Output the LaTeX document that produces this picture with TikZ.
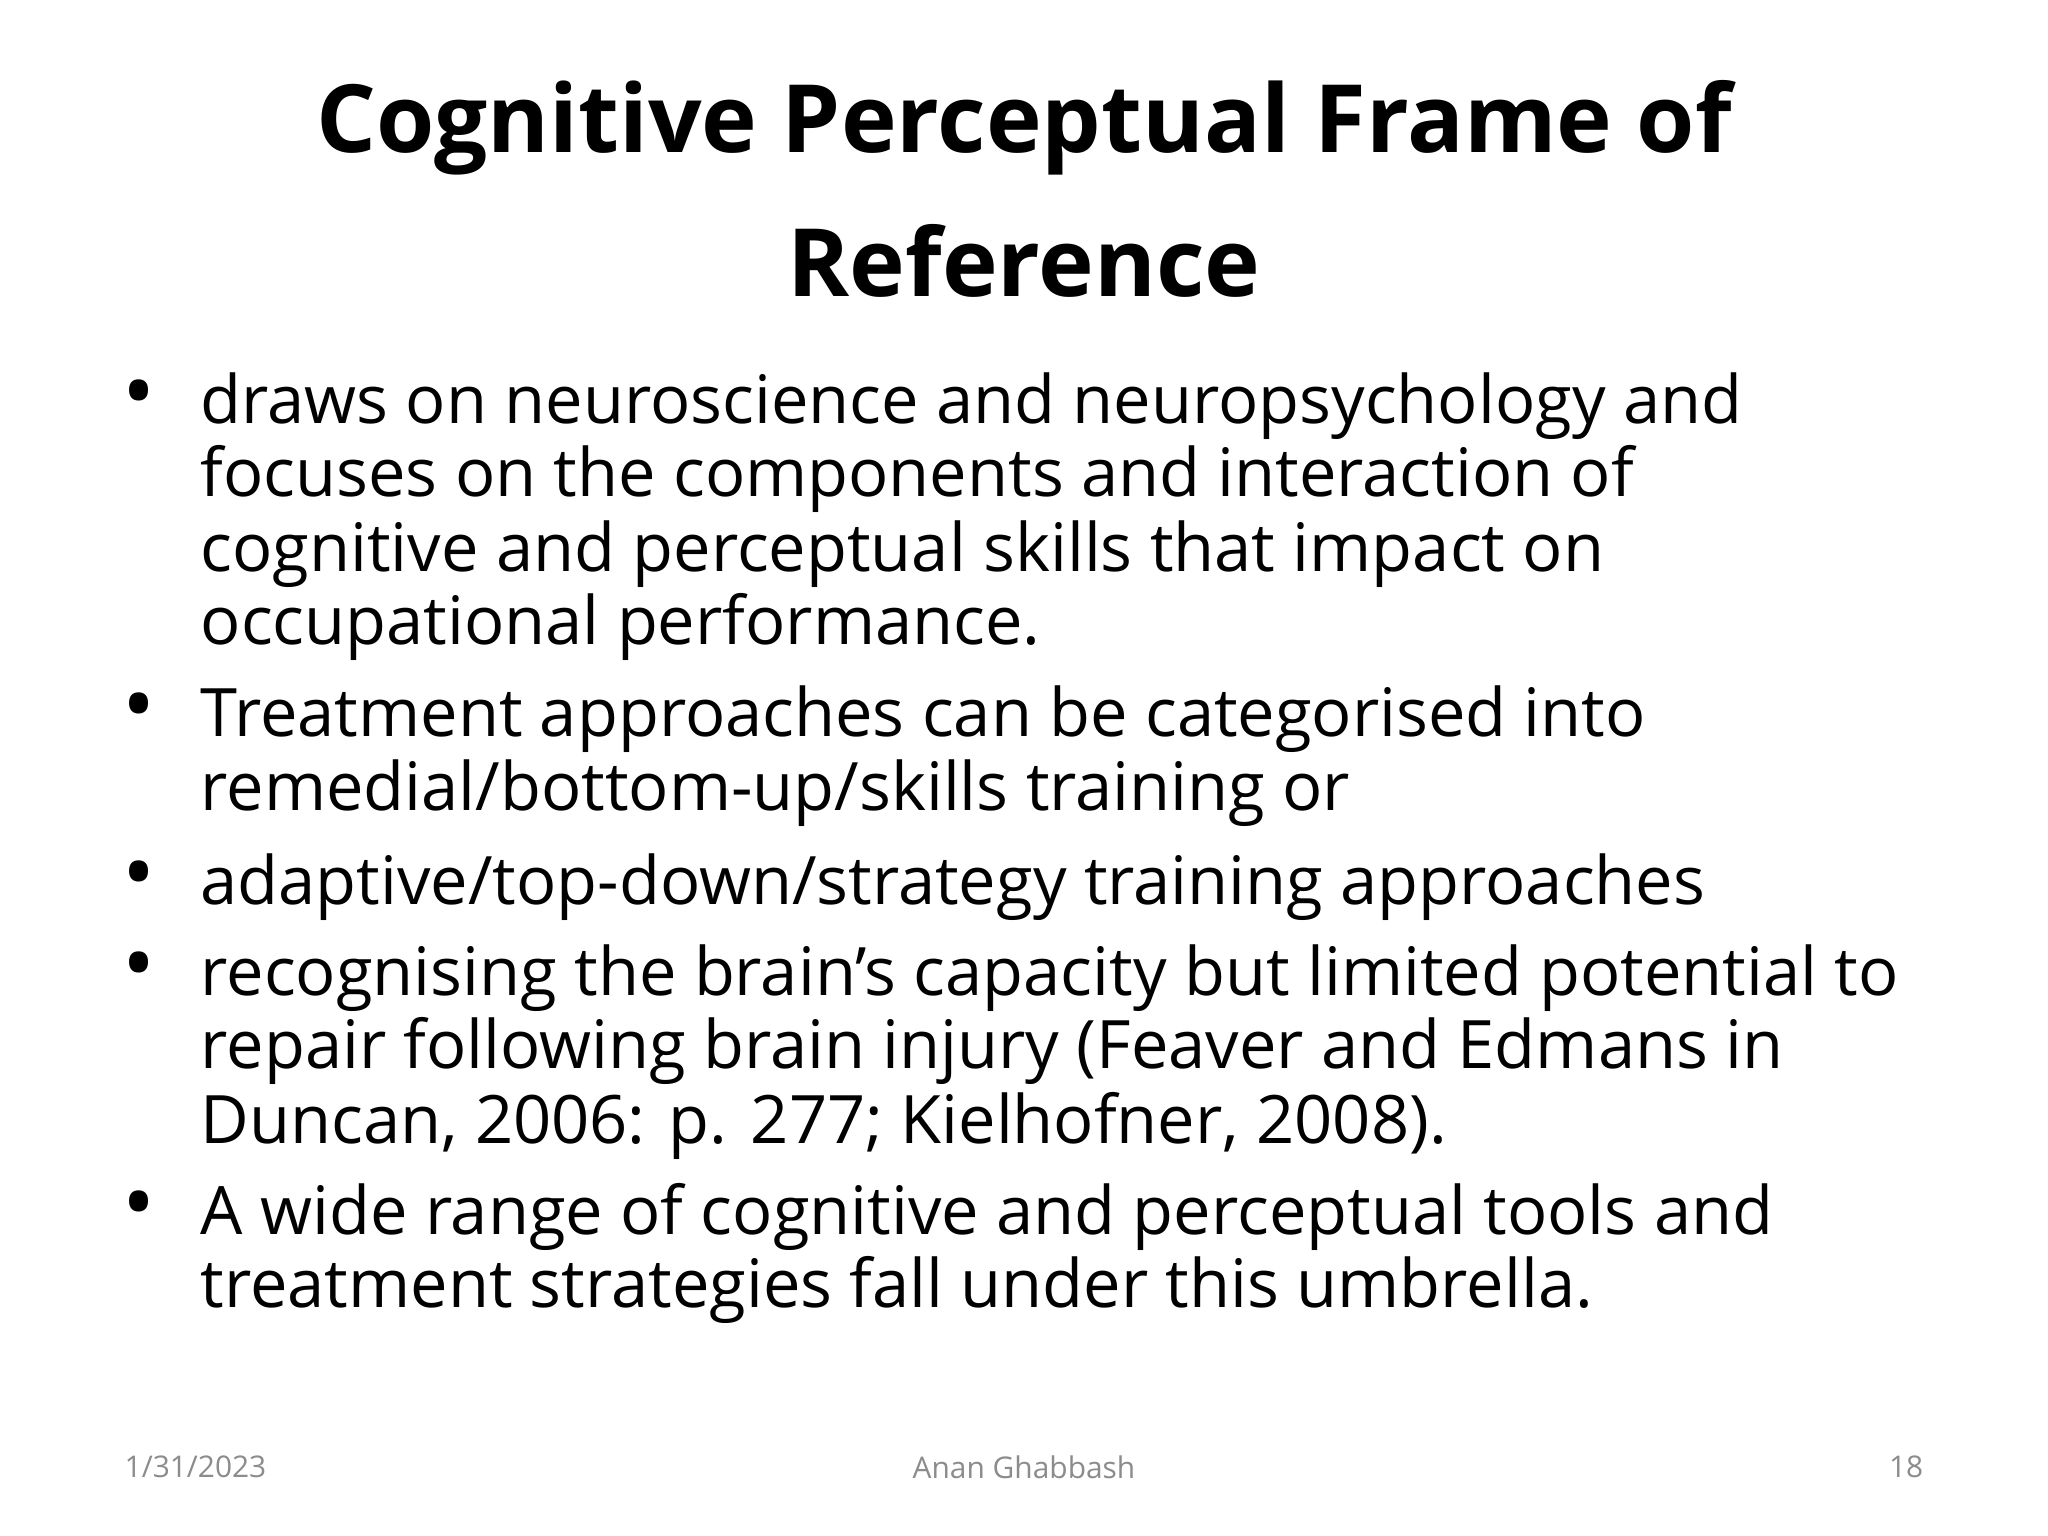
\documentclass[tikz,border=0pt]{standalone}
\usepackage{fontspec}
\setmainfont{Open Sans}
\begin{document}
\begin{tikzpicture}[x=0.01cm,y=-0.01cm,
  body/.style={anchor=mid west,inner sep=0pt,font=\fontsize{19}{22}\selectfont},
  bul/.style={anchor=mid west,inner sep=0pt,font=\fontsize{25}{28}\selectfont},
  foot/.style={inner sep=0pt,text=black!45,font=\fontsize{8.5}{10}\selectfont},
  ttl/.style={inner sep=0pt,font=\fontsize{26.8}{32}\selectfont\bfseries}]
\useasboundingbox[fill=white] (0,0) rectangle (2048,1536);
\node[ttl] (t1) at (1024,128) {Cognitive Perceptual Frame of};
\node[ttl] (t2) at (1024,261) {Reference};
\foreach \y in {401,714,882,973,1212} \node[bul] at (122,\y+12) {•};
\node[body] (l1) at (200,414) {draws on neuroscience and neuropsychology and};
\node[body] (l2) at (200,487) {focuses on the components and interaction of};
\node[body] (l3) at (200,562) {cognitive and perceptual skills that impact on};
\node[body] (l4) at (200,635) {occupational performance.};
\node[body] (l5) at (200,727) {Treatment approaches can be categorised into};
\node[body] (l6) at (200,801) {remedial/bottom-up/skills training or};
\node[body] (l7) at (200,895) {adaptive/top-down/strategy training approaches};
\node[body] (l8) at (200,986) {recognising the brain’s capacity but limited potential to};
\node[body] (l9) at (200,1059) {repair following brain injury (Feaver and Edmans in};
\node[body] (l10) at (200,1134) {Duncan, 2006: p. 277; Kielhofner, 2008).};
\node[body] (l11) at (200,1225) {A wide range of cognitive and perceptual tools and};
\node[body] (l12) at (200,1298) {treatment strategies fall under this umbrella.};
\node[foot,anchor=west] (f1) at (124,1467) {1/31/2023};
\node[foot] (f2) at (1024,1467) {Anan Ghabbash};
\node[foot,anchor=east] (f3) at (1924,1467) {18};
\end{tikzpicture}
\end{document}
